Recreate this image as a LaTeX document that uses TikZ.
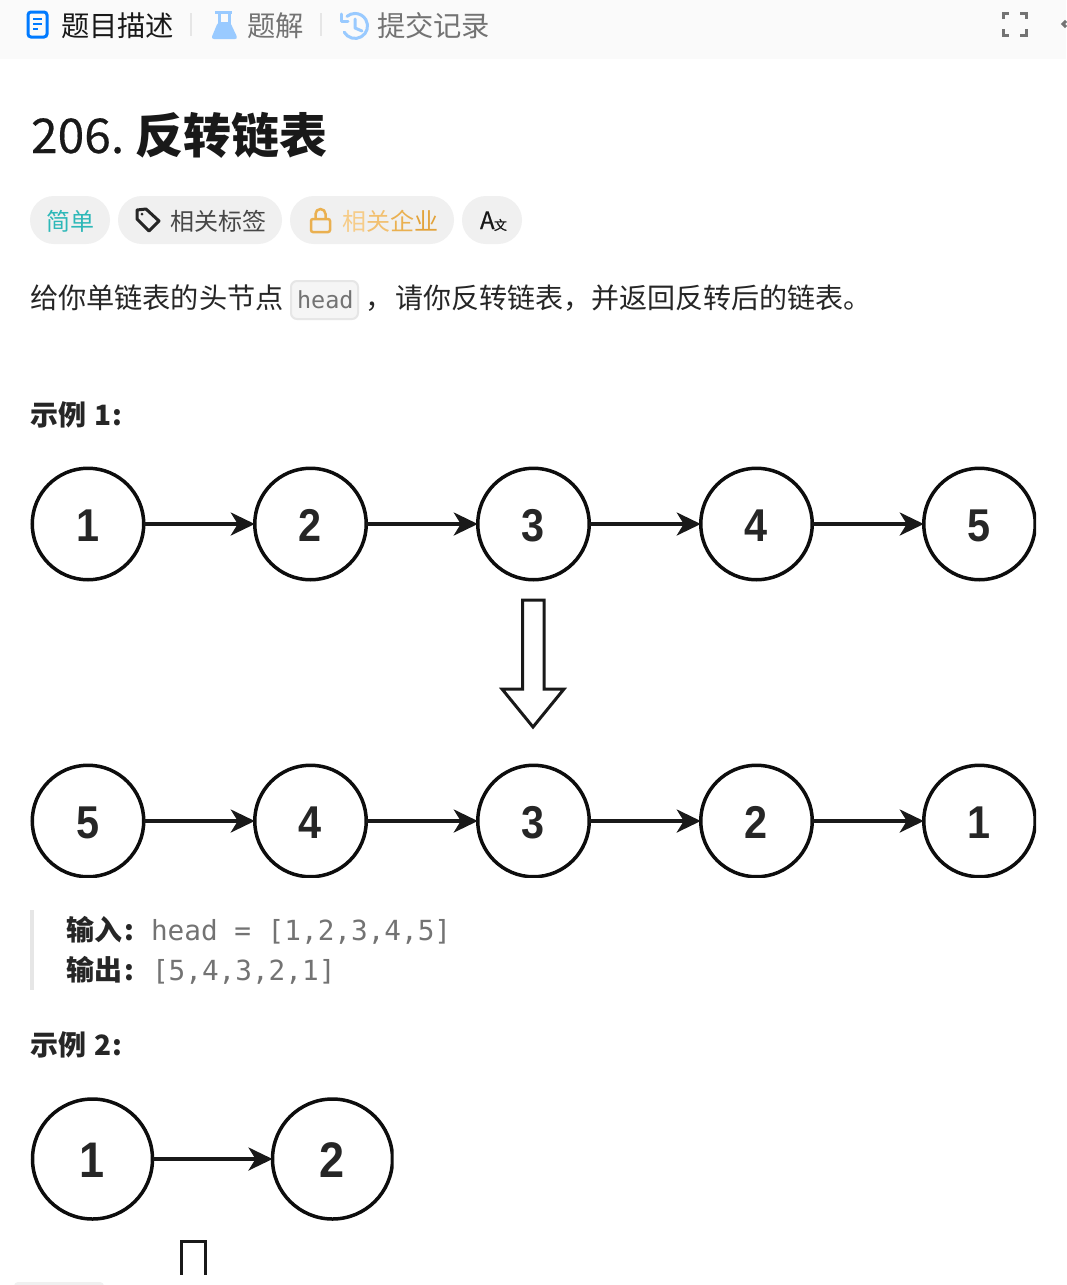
\documentclass[tikz,border=0pt]{standalone}
\usepackage{fontspec}
\setmainfont{Liberation Sans}
\newfontfamily\cjk{Noto Sans CJK SC}
\newfontfamily\cjkmed[FakeBold=0.35]{Noto Sans CJK SC}
\newfontfamily\mono{DejaVu Sans Mono}
\newfontfamily\digits[FakeStretch=0.9]{Liberation Sans}
\usetikzlibrary{arrows.meta,positioning,calc}
\definecolor{barbg}{HTML}{FAFAFA}
\definecolor{tagbg}{HTML}{F0F0F0}
\definecolor{sepline}{HTML}{E6E6E6}
\definecolor{tabblue}{HTML}{007AFF}
\definecolor{lightblue}{HTML}{99CAFF}
\definecolor{graytext}{HTML}{737373}
\definecolor{darktext}{HTML}{262626}
\definecolor{teal}{HTML}{2DB8B8}
\definecolor{goldA}{HTML}{F6CC88}
\definecolor{goldB}{HTML}{F2C070}
\definecolor{goldC}{HTML}{EAB050}
\definecolor{goldD}{HTML}{E2A23A}
\tikzset{
  list node/.style={draw=black!95,line width=3.5pt,circle,minimum size=111.5pt,inner sep=0pt,outer sep=0pt,
    text height=34pt,text depth=0pt,font=\digits\fontsize{46}{46}\selectfont\bfseries,text=black!85},
  big node/.style={list node,minimum size=120pt,text height=37.5pt,font=\digits\fontsize{50}{50}\selectfont\bfseries},
  link/.style={line width=3.5pt,draw=black!90,-{Stealth[length=24pt,width=23pt,inset=7pt]}},
  txt/.style={anchor=base west,inner sep=0pt,outer sep=0pt},
  tagpill/.style={fill=tagbg,rounded corners=24pt},
  hollow/.style={draw=black!90,line width=3pt,fill=white,line join=miter},
  icon/.style={line width=3pt,line cap=round,line join=round}
}
\newcommand{\cjksize}[1]{\cjk\fontsize{#1}{#1}\selectfont}
\newcommand{\medsize}[1]{\cjkmed\fontsize{#1}{#1}\selectfont}
\begin{document}
\begin{tikzpicture}[x=1pt,y=-1pt]
    \useasboundingbox (0,0) rectangle (1066,1285);
    \fill[white] (0,0) rectangle (1066,1285);

    % Tab bar
    \fill[barbg] (0,0) rectangle (1066,59);
    \draw[tabblue,line width=3pt,rounded corners=3pt] (28,12) rectangle (47,37);
    \draw[tabblue,line width=2.5pt] (33,19) -- (42,19) (33,24) -- (42,24) (33,29) -- (38,29);
    \node[txt,font=\cjksize{28.3},text=black!90] (tabdesc) at (61,36) {题目描述};
    \draw[sepline,line width=2pt] (191,13) -- (191,36);
    \draw[lightblue,line width=3pt] (215,12) -- (232,12) (219,12) -- (219,24) (229,12) -- (229,24);
    \fill[lightblue,rounded corners=3pt] (218,22) -- (230,22) -- (238,39) -- (211,39) -- cycle;
    \node[txt,font=\cjksize{28.3},text=graytext] (tabsol) at (247,36) {题解};
    \draw[sepline,line width=2pt] (321,13) -- (321,36);
    \draw[lightblue,icon] (344.2,32.2) arc[start angle=150,end angle=-130,radius=12.5];
    \draw[lightblue,icon] (341,14) -- (341,21) -- (348,21);
    \draw[lightblue,icon] (355,19) -- (355,28) -- (362,31);
    \node[txt,font=\cjksize{28.3},text=graytext] (tabsub) at (377,36) {提交记录};
    \draw[graytext,line width=3pt] (1003,19) -- (1003,13) -- (1009,13)
      (1020,13) -- (1026,13) -- (1026,19)
      (1003,29) -- (1003,35) -- (1009,35)
      (1020,35) -- (1026,35) -- (1026,29);
    \draw[graytext,line width=3pt] (1066,21) -- (1063,24) -- (1066,27);

    % Title
    \node[txt,font=\medsize{48},text=black!90] (num) at (31,153) {206.};
    \node[txt,font=\cjksize{48}\bfseries,text=black!90] (title) at (135,153) {反转链表};

    % Tags
    \fill[tagpill] (30,196) rectangle (110,244);
    \node[txt,font=\cjksize{24},text=teal] (easy) at (46,230) {简单};
    \fill[tagpill] (118,196) rectangle (282,244);
    \draw[black!85,line width=3pt,line join=round] (137,210) -- (146,209) -- (159,221) -- (149,231) -- (137,219) -- cycle;
    \fill[black!85] (142,214) circle (1.5);
    \node[txt,font=\cjksize{24},text=darktext!85] (tags) at (170,230) {相关标签};
    \fill[tagpill] (290,196) rectangle (454,244);
    \draw[goldC,line width=2.5pt,rounded corners=2pt] (311,219) rectangle (330,232);
    \draw[goldC,line width=2.5pt] (315.5,219) -- (315.5,214) arc[start angle=180,end angle=360,radius=5] -- (325.5,219);
    \node[txt,font=\cjksize{24}] (firms) at (342,230) {\textcolor{goldA}{相}\textcolor{goldB}{关}\textcolor{goldC}{企}\textcolor{goldD}{业}};
    \fill[tagpill] (462,196) rectangle (522,244);
    \node[txt,font=\medsize{24},text=black!90] (trans) at (480,229) {A};
    \node[txt,font=\medsize{13},text=black!90] (transb) at (494,230) {文};

    % Statement
    \node[txt,font=\cjksize{28.2},text=darktext] (intro) at (30,308) {给你单链表的头节点};
    \draw[sepline,fill=black!4,line width=2pt,rounded corners=6pt] (291,281) rectangle (358,319);
    \node[txt,font=\mono\fontsize{23.5}{24}\selectfont,text=graytext] (head) at (297,308) {head};
    \node[txt,font=\cjksize{28},text=darktext] (comma) at (365,308) {，};
    \node[txt,font=\cjksize{28},text=darktext] (rest) at (395,308) {请你反转链表，并返回反转后的链表。};

    % Example 1
    \node[txt,font=\cjksize{28}\bfseries,text=darktext] (ex1) at (30,425) {示例\kern2pt{} 1\kern1pt:};
    \begin{scope}
      \clip (0,450) rectangle (1036,877.5);
      \draw (88,524) node[list node] (a1) {1};
      \draw (310.5,524) node[list node] (a2) {2};
      \draw (533.5,524) node[list node] (a3) {3};
      \draw (756.5,524) node[list node] (a4) {4};
      \draw (979.5,524) node[list node] (a5) {5};
      \draw[link] (a1) -- (a2);
      \draw[link] (a2) -- (a3);
      \draw[link] (a3) -- (a4);
      \draw[link] (a4) -- (a5);

      \draw (88,821) node[list node] (b5) {5};
      \draw (310.5,821) node[list node] (b4) {4};
      \draw (533.5,821) node[list node] (b3) {3};
      \draw (756.5,821) node[list node] (b2) {2};
      \draw (979.5,821) node[list node] (b1) {1};
      \draw[link] (b5) -- (b4);
      \draw[link] (b4) -- (b3);
      \draw[link] (b3) -- (b2);
      \draw[link] (b2) -- (b1);
    \end{scope}

    % Down arrow
    \draw[hollow] (522.5,600) -- (544,600) -- (544,689) -- (564,689) -- (533,727) -- (502,689) -- (522.5,689) -- cycle;

    % Input and output
    \fill[sepline] (30,910) rectangle (34,990);
    \node[txt,font=\cjksize{28}\bfseries,text=darktext] (inlab) at (66,940) {输入\kern3pt:};
    \node[txt,font=\mono\fontsize{27.7}{28}\selectfont,text=graytext] (inval) at (151,940) {head = [1,2,3,4,5]};
    \node[txt,font=\cjksize{28}\bfseries,text=darktext] (outlab) at (66,980) {输出\kern3pt:};
    \node[txt,font=\mono\fontsize{27.7}{28}\selectfont,text=graytext] (outval) at (152,980) {[5,4,3,2,1]};

    % Example 2
    \node[txt,font=\cjksize{28}\bfseries,text=darktext] (ex2) at (30,1055) {示例\kern2pt{} 2\kern1pt:};
    \begin{scope}
      \clip (0,1085) rectangle (393.5,1274);
      \draw (92.5,1159) node[big node] (c1) {1};
      \draw (332.5,1159) node[big node] (c2) {2};
      \draw[link] (c1) -- (c2);
      \draw[hollow] (181,1241) -- (205,1241) -- (205,1290) -- (181,1290) -- cycle;
    \end{scope}

    % Cut off at the bottom
    \fill[black!6,rounded corners=4pt] (14,1282) rectangle (104,1295);
\end{tikzpicture}
\end{document}
